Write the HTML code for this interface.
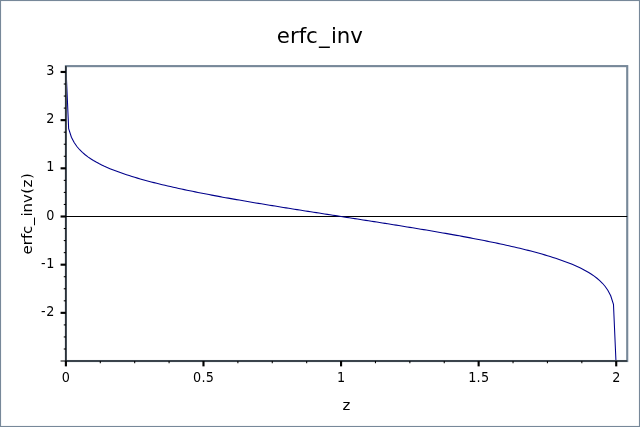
<!DOCTYPE html>
<html><head><meta charset="utf-8"><title>erfc_inv</title>
<style>html,body{margin:0;padding:0;background:#fff;overflow:hidden}svg{display:block}</style></head>
<body>
<svg width="640" height="427" viewBox="0 0 640 427">
<defs><clipPath id="pw"><rect x="66.97" y="67.19" width="559.19" height="292.77"/></clipPath></defs>
<rect x="0" y="0" width="640" height="427" fill="#fff"/>
<rect x="0" y="0" width="640" height="427" fill="none" stroke="rgb(119,136,153)" stroke-width="2.133"/>
<rect x="65.9" y="66.12" width="561.32" height="294.91" fill="#fff" stroke="rgb(119,136,153)" stroke-width="2.133"/>
<line x1="65.9" y1="66.12" x2="65.9" y2="361.03" stroke="#000" stroke-width="1.0667"/>
<line x1="65.9" y1="216.50" x2="627.22" y2="216.50" stroke="#000" stroke-width="1.0675"/>
<line x1="60.57" y1="361.03" x2="627.22" y2="361.03" stroke="#000" stroke-width="1.0675"/>
<line x1="63.77" y1="348.99" x2="65.9" y2="348.99" stroke="#000" stroke-width="1.0675"/>
<line x1="63.77" y1="336.94" x2="65.9" y2="336.94" stroke="#000" stroke-width="1.0675"/>
<line x1="63.77" y1="324.90" x2="65.9" y2="324.90" stroke="#000" stroke-width="1.0675"/>
<line x1="60.57" y1="312.85" x2="65.9" y2="312.85" stroke="#000" stroke-width="2.1350"/>
<line x1="63.77" y1="300.81" x2="65.9" y2="300.81" stroke="#000" stroke-width="1.0675"/>
<line x1="63.77" y1="288.77" x2="65.9" y2="288.77" stroke="#000" stroke-width="1.0675"/>
<line x1="63.77" y1="276.72" x2="65.9" y2="276.72" stroke="#000" stroke-width="1.0675"/>
<line x1="60.57" y1="264.68" x2="65.9" y2="264.68" stroke="#000" stroke-width="2.1350"/>
<line x1="63.77" y1="252.63" x2="65.9" y2="252.63" stroke="#000" stroke-width="1.0675"/>
<line x1="63.77" y1="240.59" x2="65.9" y2="240.59" stroke="#000" stroke-width="1.0675"/>
<line x1="63.77" y1="228.54" x2="65.9" y2="228.54" stroke="#000" stroke-width="1.0675"/>
<line x1="60.57" y1="216.50" x2="65.9" y2="216.50" stroke="#000" stroke-width="2.1350"/>
<line x1="63.77" y1="204.46" x2="65.9" y2="204.46" stroke="#000" stroke-width="1.0675"/>
<line x1="63.77" y1="192.41" x2="65.9" y2="192.41" stroke="#000" stroke-width="1.0675"/>
<line x1="63.77" y1="180.37" x2="65.9" y2="180.37" stroke="#000" stroke-width="1.0675"/>
<line x1="60.57" y1="168.32" x2="65.9" y2="168.32" stroke="#000" stroke-width="2.1350"/>
<line x1="63.77" y1="156.28" x2="65.9" y2="156.28" stroke="#000" stroke-width="1.0675"/>
<line x1="63.77" y1="144.23" x2="65.9" y2="144.23" stroke="#000" stroke-width="1.0675"/>
<line x1="63.77" y1="132.19" x2="65.9" y2="132.19" stroke="#000" stroke-width="1.0675"/>
<line x1="60.57" y1="120.15" x2="65.9" y2="120.15" stroke="#000" stroke-width="2.1350"/>
<line x1="63.77" y1="108.10" x2="65.9" y2="108.10" stroke="#000" stroke-width="1.0675"/>
<line x1="63.77" y1="96.06" x2="65.9" y2="96.06" stroke="#000" stroke-width="1.0675"/>
<line x1="63.77" y1="84.01" x2="65.9" y2="84.01" stroke="#000" stroke-width="1.0675"/>
<line x1="60.57" y1="71.97" x2="65.9" y2="71.97" stroke="#000" stroke-width="2.1350"/>
<line x1="65.90" y1="361.03" x2="65.90" y2="366.37" stroke="#000" stroke-width="2.1333"/>
<line x1="100.30" y1="361.03" x2="100.30" y2="363.16" stroke="#000" stroke-width="1.0667"/>
<line x1="134.69" y1="361.03" x2="134.69" y2="363.16" stroke="#000" stroke-width="1.0667"/>
<line x1="169.09" y1="361.03" x2="169.09" y2="363.16" stroke="#000" stroke-width="1.0667"/>
<line x1="203.48" y1="361.03" x2="203.48" y2="366.37" stroke="#000" stroke-width="2.1333"/>
<line x1="237.88" y1="361.03" x2="237.88" y2="363.16" stroke="#000" stroke-width="1.0667"/>
<line x1="272.27" y1="361.03" x2="272.27" y2="363.16" stroke="#000" stroke-width="1.0667"/>
<line x1="306.67" y1="361.03" x2="306.67" y2="363.16" stroke="#000" stroke-width="1.0667"/>
<line x1="341.06" y1="361.03" x2="341.06" y2="366.37" stroke="#000" stroke-width="2.1333"/>
<line x1="375.46" y1="361.03" x2="375.46" y2="363.16" stroke="#000" stroke-width="1.0667"/>
<line x1="409.85" y1="361.03" x2="409.85" y2="363.16" stroke="#000" stroke-width="1.0667"/>
<line x1="444.25" y1="361.03" x2="444.25" y2="363.16" stroke="#000" stroke-width="1.0667"/>
<line x1="478.64" y1="361.03" x2="478.64" y2="366.37" stroke="#000" stroke-width="2.1333"/>
<line x1="513.04" y1="361.03" x2="513.04" y2="363.16" stroke="#000" stroke-width="1.0667"/>
<line x1="547.43" y1="361.03" x2="547.43" y2="363.16" stroke="#000" stroke-width="1.0667"/>
<line x1="581.83" y1="361.03" x2="581.83" y2="363.16" stroke="#000" stroke-width="1.0667"/>
<line x1="616.22" y1="361.03" x2="616.22" y2="366.37" stroke="#000" stroke-width="2.1333"/>
<path d="M65.90,66.02 L68.65,128.76 L71.41,137.26 L74.16,142.58 L76.91,146.54 L79.66,149.73 L82.41,152.43 L85.16,154.78 L87.92,156.86 L90.67,158.75 L93.42,160.47 L96.17,162.06 L98.92,163.54 L101.67,164.92 L104.42,166.23 L107.18,167.46 L109.93,168.64 L112.68,169.76 L115.43,170.83 L118.18,171.85 L120.93,172.84 L123.69,173.80 L126.44,174.72 L129.19,175.61 L131.94,176.47 L134.69,177.31 L137.44,178.13 L140.20,178.92 L142.95,179.70 L145.70,180.45 L148.45,181.19 L151.20,181.92 L153.95,182.62 L156.70,183.32 L159.46,184.00 L162.21,184.66 L164.96,185.32 L167.71,185.96 L170.46,186.59 L173.21,187.22 L175.97,187.83 L178.72,188.43 L181.47,189.03 L184.22,189.62 L186.97,190.19 L189.72,190.77 L192.48,191.33 L195.23,191.89 L197.98,192.44 L200.73,192.98 L203.48,193.52 L206.23,194.06 L208.98,194.58 L211.74,195.11 L214.49,195.62 L217.24,196.14 L219.99,196.64 L222.74,197.15 L225.49,197.65 L228.25,198.14 L231.00,198.64 L233.75,199.12 L236.50,199.61 L239.25,200.09 L242.00,200.57 L244.75,201.04 L247.51,201.51 L250.26,201.98 L253.01,202.45 L255.76,202.91 L258.51,203.37 L261.26,203.83 L264.02,204.29 L266.77,204.74 L269.52,205.20 L272.27,205.65 L275.02,206.09 L277.77,206.54 L280.53,206.98 L283.28,207.43 L286.03,207.87 L288.78,208.31 L291.53,208.75 L294.28,209.19 L297.03,209.62 L299.79,210.06 L302.54,210.49 L305.29,210.92 L308.04,211.36 L310.79,211.79 L313.54,212.22 L316.30,212.65 L319.05,213.08 L321.80,213.51 L324.55,213.94 L327.30,214.36 L330.05,214.79 L332.81,215.22 L335.56,215.65 L338.31,216.07 L341.06,216.50 L343.81,216.93 L346.56,217.35 L349.31,217.78 L352.07,218.21 L354.82,218.64 L357.57,219.06 L360.32,219.49 L363.07,219.92 L365.82,220.35 L368.58,220.78 L371.33,221.21 L374.08,221.64 L376.83,222.08 L379.58,222.51 L382.33,222.94 L385.09,223.38 L387.84,223.81 L390.59,224.25 L393.34,224.69 L396.09,225.13 L398.84,225.57 L401.59,226.02 L404.35,226.46 L407.10,226.91 L409.85,227.35 L412.60,227.80 L415.35,228.26 L418.10,228.71 L420.86,229.17 L423.61,229.63 L426.36,230.09 L429.11,230.55 L431.86,231.02 L434.61,231.49 L437.37,231.96 L440.12,232.43 L442.87,232.91 L445.62,233.39 L448.37,233.88 L451.12,234.36 L453.87,234.86 L456.63,235.35 L459.38,235.85 L462.13,236.36 L464.88,236.86 L467.63,237.38 L470.38,237.89 L473.14,238.42 L475.89,238.94 L478.64,239.48 L481.39,240.02 L484.14,240.56 L486.89,241.11 L489.64,241.67 L492.40,242.23 L495.15,242.81 L497.90,243.38 L500.65,243.97 L503.40,244.57 L506.15,245.17 L508.91,245.78 L511.66,246.41 L514.41,247.04 L517.16,247.68 L519.91,248.34 L522.66,249.00 L525.42,249.68 L528.17,250.38 L530.92,251.08 L533.67,251.81 L536.42,252.55 L539.17,253.30 L541.92,254.08 L544.68,254.87 L547.43,255.69 L550.18,256.53 L552.93,257.39 L555.68,258.28 L558.43,259.20 L561.19,260.16 L563.94,261.15 L566.69,262.17 L569.44,263.24 L572.19,264.36 L574.94,265.54 L577.70,266.77 L580.45,268.08 L583.20,269.46 L585.95,270.94 L588.70,272.53 L591.45,274.25 L594.20,276.14 L596.96,278.22 L599.71,280.57 L602.46,283.27 L605.21,286.46 L607.96,290.42 L610.71,295.74 L613.47,304.24 L616.22,366.98" fill="none" stroke="rgb(0,0,139)" stroke-width="1.0667" clip-path="url(#pw)"/>
<text x="-8.14" y="0" transform="translate(54.40,74.97) scale(1,1.07)" font-size="12.800" font-family="DejaVu Sans, Verdana, sans-serif">3</text>
<text x="-8.14" y="0" transform="translate(54.40,123.15) scale(1,1.07)" font-size="12.800" font-family="DejaVu Sans, Verdana, sans-serif">2</text>
<text x="-8.14" y="0" transform="translate(54.40,171.32) scale(1,1.07)" font-size="12.800" font-family="DejaVu Sans, Verdana, sans-serif">1</text>
<text x="-8.14" y="0" transform="translate(54.40,219.50) scale(1,1.07)" font-size="12.800" font-family="DejaVu Sans, Verdana, sans-serif">0</text>
<text x="-13.36 -8.14" y="0" transform="translate(54.40,267.68) scale(1,1.07)" font-size="12.800" font-family="DejaVu Sans, Verdana, sans-serif">-1</text>
<text x="-13.36 -8.14" y="0" transform="translate(54.40,315.85) scale(1,1.07)" font-size="12.800" font-family="DejaVu Sans, Verdana, sans-serif">-2</text>
<text x="-4.07" y="0" transform="translate(65.90,381.80) scale(1,1.07)" font-size="12.800" font-family="DejaVu Sans, Verdana, sans-serif">0</text>
<text x="-10.47 -2.03 2.33" y="0" transform="translate(203.48,381.80) scale(1,1.07)" font-size="12.800" font-family="DejaVu Sans, Verdana, sans-serif">0.5</text>
<text x="-4.07" y="0" transform="translate(341.06,381.80) scale(1,1.07)" font-size="12.800" font-family="DejaVu Sans, Verdana, sans-serif">1</text>
<text x="-10.47 -2.03 2.33" y="0" transform="translate(478.64,381.80) scale(1,1.07)" font-size="12.800" font-family="DejaVu Sans, Verdana, sans-serif">1.5</text>
<text x="-4.07" y="0" transform="translate(616.22,381.80) scale(1,1.07)" font-size="12.800" font-family="DejaVu Sans, Verdana, sans-serif">2</text>
<text x="-43.20 -30.11 -21.17 -13.97 -1.10 10.98 16.86 30.37" y="0" transform="translate(320.00,42.80)" font-size="21.333" font-family="DejaVu Sans, Verdana, sans-serif">erfc_inv</text>
<text x="-3.92" y="0" transform="translate(346.50,409.80)" font-size="14.933" font-family="DejaVu Sans, Verdana, sans-serif">z</text>
<text x="-40.94 -31.78 -25.52 -20.48 -11.47 -3.02 1.10 10.56 19.88 26.18 34.49" y="0" transform="translate(32.40,213.60) rotate(-90)" font-size="14.933" font-family="DejaVu Sans, Verdana, sans-serif">erfc_inv(z)</text>
</svg>
</body></html>
